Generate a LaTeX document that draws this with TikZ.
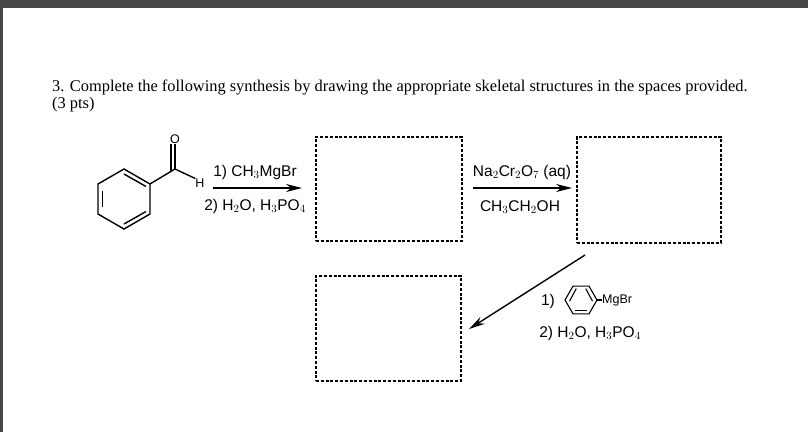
\documentclass[tikz,border=0pt]{standalone}
\usepackage{fontspec}
\setmainfont{Liberation Serif}
\setsansfont{Liberation Sans}
\usetikzlibrary{arrows.meta,calc}
\begin{document}
\begin{tikzpicture}[x=1pt,y=-1pt,
  box/.style={draw,line width=1.2pt,dash pattern=on 3pt off 1.8pt},
  rxn/.style={line width=1.4pt,-{Stealth[length=16pt,width=8pt]}},
  lbl/.style={font=\sffamily\fontsize{15.5}{18}\selectfont,inner sep=0pt},
  bond/.style={line width=1.4pt}]
\useasboundingbox (0,0) rectangle (808,432);
\fill[white] (0,0) rectangle (808,432);
\fill[black!72] (0,0) rectangle (808,8);
\fill[black!72] (0,0) rectangle (3,432);
\node[anchor=base west,inner sep=0pt,font=\fontsize{16.4}{19}\selectfont] (t1) at (52,91) {3. Complete the following synthesis by drawing the appropriate skeletal structures in the spaces provided.};
\node[anchor=base west,inner sep=0pt,font=\fontsize{16.4}{19}\selectfont] (t2) at (52,108) {(3 pts)};
% benzaldehyde
\begin{scope}[shift={(124,199)}]
\draw[bond] (90:30)--(30:30)--(-30:30)--(-90:30)--(-150:30)--(150:30)--cycle;
\end{scope}
\coordinate (c1) at (150,184);
\coordinate (cc) at (175,169);
\draw[bond] (124,174) -- (146,186.5);
\draw[bond] (102.5,191) -- (102.5,207);
\draw[bond] (124,224) -- (146,211.5);
\draw[bond] (c1) -- (cc);
\node[lbl,font=\sffamily\fontsize{12.5}{15}\selectfont] (O) at (175,139) {O};
\node[lbl,font=\sffamily\fontsize{12.5}{15}\selectfont] (H) at (200,183) {H};
\draw[bond] (cc) -- (O.south);
\draw[bond] ([xshift=-4pt,yshift=-3pt]cc) -- ([xshift=-4pt]O.south);
\draw[bond] (cc) -- (H.north west);
% arrow 1
\coordinate (a1s) at (213,188); \coordinate (a1e) at (302,188);
\draw[rxn] (a1s) -- (a1e);
\node[lbl] (l1) at (255,172) {1) CH$_3$MgBr};
\node[lbl] (l2) at (255,206) {2) H$_2$O, H$_3$PO$_4$};
\node[box,minimum width=146pt,minimum height=104pt] (b1) at (389,189) {};
% arrow 2
\coordinate (a2s) at (473,188); \coordinate (a2e) at (572,188);
\draw[rxn] (a2s) -- (a2e);
\node[lbl] (l3) at (522,172) {Na$_2$Cr$_2$O$_7$ (aq)};
\node[lbl] (l4) at (520,207) {CH$_3$CH$_2$OH};
\node[box,minimum width=144pt,minimum height=106pt] (b2) at (649,190) {};
\node[box,minimum width=145pt,minimum height=105pt] (b3) at (388.5,328.5) {};
% arrow 3
\coordinate (a3s) at (585,255); \coordinate (a3e) at (469,329);
\draw[rxn] (a3s) -- (a3e);
\node[lbl] (l5) at (548,301) {1)};
\begin{scope}[shift={(581,300)}]
\draw[line width=1.1pt] (0:16)--(60:16)--(120:16)--(180:16)--(240:16)--(300:16)--cycle;
\draw[line width=1.1pt] ($(60:12.5)$) -- ($(120:12.5)$);
\draw[line width=1.1pt] ($(180:12.5)+(1,1.2)$) -- ($(240:12.5)+(1.5,-0.6)$);
\draw[line width=1.1pt] ($(300:12.5)+(-1.5,-0.6)$) -- ($(0:12.5)+(-1,1.2)$);
\end{scope}
\node[lbl,font=\sffamily\fontsize{12.5}{15}\selectfont,anchor=west] (mg) at (602,300) {MgBr};
\draw[line width=1.1pt] (597,300) -- (mg.west);
\node[lbl] (l6) at (590,333) {2) H$_2$O, H$_3$PO$_4$};
\end{tikzpicture}
\end{document}
